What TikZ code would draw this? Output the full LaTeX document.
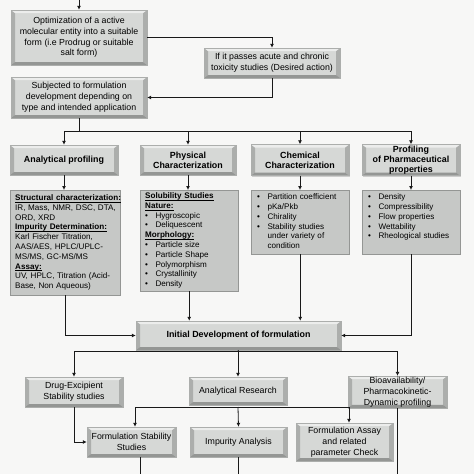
\documentclass[tikz,border=0pt]{standalone}
\usepackage{fontspec}
\setmainfont{Liberation Sans}
\usepackage{tikz}
\usetikzlibrary{arrows.meta,positioning,calc,shadows}
\usepackage{xcolor}
\definecolor{flowbg}   {RGB}{247, 247, 246}
\definecolor{faceA}    {RGB}{214, 216, 214}
\definecolor{faceB}    {RGB}{198, 200, 198}
\definecolor{bevlight} {RGB}{236, 237, 236}
\definecolor{bevside}  {RGB}{172, 174, 172}
\definecolor{bevdark}  {RGB}{148, 150, 148}
\definecolor{lineblk}  {RGB}{ 25,  25,  25}

\begin{document}
\begin{tikzpicture}[
  x=1pt,y=-1pt,
  every node/.style={font=\fontsize{8.8}{10.8}\selectfont,text=black},
  box/.style={fill=faceA,draw=bevside,line width=0.4pt,align=center,inner sep=1pt,
              drop shadow={shadow xshift=1.2pt,shadow yshift=-1.2pt,opacity=0.35}},
  bevel/.style={box,path picture={
      \coordinate (bvNW) at (path picture bounding box.north west);
      \coordinate (bvNE) at (path picture bounding box.north east);
      \coordinate (bvSW) at (path picture bounding box.south west);
      \coordinate (bvSE) at (path picture bounding box.south east);
      \fill[bevside] (bvNW) -- ([shift={(4pt,-3pt)}]bvNW) -- ([shift={(4pt,3pt)}]bvSW) -- (bvSW) -- cycle;
      \fill[bevside] (bvNE) -- ([shift={(-4pt,-3pt)}]bvNE) -- ([shift={(-4pt,3pt)}]bvSE) -- (bvSE) -- cycle;
      \fill[bevlight] (bvNW) -- (bvNE) -- ([shift={(-4pt,-3pt)}]bvNE) -- ([shift={(4pt,-3pt)}]bvNW) -- cycle;
      \fill[bevdark] (bvSW) -- (bvSE) -- ([shift={(-4pt,3pt)}]bvSE) -- ([shift={(4pt,3pt)}]bvSW) -- cycle;
  }},
  head/.style={bevel,font=\fontsize{8.9}{10.3}\selectfont\bfseries},
  list/.style={box,fill=faceB,draw=bevdark,align=left,anchor=north west,
               inner xsep=5pt,inner ysep=1.5pt,font=\fontsize{8.1}{9.8}\selectfont},
  arr/.style={-{Latex[length=4pt,width=4pt]},line width=0.8pt,lineblk},
  ln/.style={line width=0.8pt,lineblk},
]
\newcommand{\hd}[1]{\underline{\smash{\textbf{#1}}}}
\newcommand{\bl}{\textbullet}

\fill[flowbg] (0,0) rectangle (474,474);
\useasboundingbox (0,0) rectangle (474,474);

%% ── Upper chain: optimisation -> toxicity -> formulation ───────────────
\coordinate (top) at (79,0);
\node[bevel,minimum width=136,minimum height=55] (opt) at (79,37.5)
  {Optimization of a active\\molecular entity into a suitable\\form (i.e Prodrug or suitable\\salt form)};
\node[bevel,minimum width=136,minimum height=30] (tox) at (272,63)
  {If it passes acute and chronic\\toxicity studies (Desired action)};
\node[bevel,minimum width=136,minimum height=41] (subj) at (79,97.5)
  {Subjected to formulation\\development depending on\\type and intended application};
\draw[arr] (top) -- (opt.north);
\draw[arr] (opt.east) -| (tox.north);
\draw[arr] (tox.south) |- (subj.east);

%% ── Four profiling branches ───────────────────────────────────────────
\node[head,minimum width=108,minimum height=30] (anal) at (64,160) {Analytical profiling};
\node[head,minimum width=96,minimum height=30]  (phys) at (188,160) {Physical\\Characterization};
\node[head,minimum width=98,minimum height=31]  (chem) at (300,160) {Chemical\\Characterization};
\node[head,minimum width=98,minimum height=31]  (prof) at (411,160) {Profiling\\of Pharmaceutical\\properties};
\coordinate (split) at (79,131);
\draw[ln] (subj.south) -- (split);
\draw[ln] (anal.north |- split) -- (prof.north |- split);
\foreach \b in {anal,phys,chem,prof}
  \draw[arr] (\b.north |- split) -- (\b.north);

\node[list,text width=100,minimum height=105] (anald) at (10,190)
  {\begin{tabular}{@{}l@{}}
   \hd{Structural characterization:}\\
   IR, Mass, NMR, DSC, DTA,\\
   ORD, XRD\\
   \hd{Impurity Determination:}\\
   Karl Fischer Titration,\\
   AAS/AES, HPLC/UPLC-\\
   MS/MS, GC-MS/MS\\
   \hd{Assay:}\\
   UV, HPLC, Titration (Acid-\\
   Base, Non Aqueous)
  \end{tabular}};
\node[list,text width=88,minimum height=100] (physd) at (140,190)
  {\begin{tabular}{@{}l@{\hspace{7.5pt}}l@{}}
   \multicolumn{2}{@{}l@{}}{\hd{Solubility Studies}}\\
   \multicolumn{2}{@{}l@{}}{\hd{Nature:}}\\
   \bl & Hygroscopic\\
   \bl & Deliquescent\\
   \multicolumn{2}{@{}l@{}}{\hd{Morphology:}}\\
   \bl & Particle size\\
   \bl & Particle Shape\\
   \bl & Polymorphism\\
   \bl & Crystallinity\\
   \bl & Density
  \end{tabular}};
\node[list,text width=86,inner xsep=6pt,minimum height=64] (chemd) at (251,190)
  {\begin{tabular}{@{}l@{\hspace{7.5pt}}l@{}}
   \bl & Partition coefficient\\
   \bl & pKa/Pkb\\
   \bl & Chirality\\
   \bl & Stability studies\\
       & under variety of\\
       & condition
  \end{tabular}};
\node[list,text width=86,inner xsep=6pt,minimum height=64] (profd) at (362,190)
  {\begin{tabular}{@{}l@{\hspace{7.5pt}}l@{}}
   \bl & Density\\
   \bl & Compressibility\\
   \bl & Flow properties\\
   \bl & Wettability\\
   \bl & Rheological studies\\
       & \mbox{}
  \end{tabular}};
\draw[arr] (anal.south) -- (anal.south |- anald.north);
\draw[arr] (phys.south) -- (phys.south |- physd.north);
\draw[arr] (chem.south) -- (chem.south |- chemd.north);
\draw[arr] (prof.south) -- (prof.south |- profd.north);

%% ── Merge into initial development ────────────────────────────────────
\node[head,minimum width=205,minimum height=29] (init) at (238.5,335.5) {Initial Development of formulation};
\draw[arr] (anald.south) |- (init.west);
\draw[arr] (physd.south) -- (physd.south |- init.north);
\draw[arr] (chemd.south) -- (chemd.south |- init.north);
\draw[arr] (profd.south) |- (init.east);

%% ── Second level studies ──────────────────────────────────────────────
\node[bevel,minimum width=98,minimum height=30] (drug) at (74,392) {Drug-Excipient\\Stability studies};
\node[bevel,minimum width=98,minimum height=28] (ares) at (238,391) {Analytical Research};
\node[bevel,minimum width=99,minimum height=30] (bio)  at (397.5,392) {Bioavailability/\\Pharmacokinetic-\\Dynamic profiling};
\coordinate (split2) at (238,351);
\draw[ln] (init.south) -- (split2);
\draw[ln] (drug.north |- split2) -- (bio.north |- split2);
\foreach \b in {drug,ares,bio}
  \draw[arr] (\b.north |- split2) -- (\b.north);

%% ── Third level ───────────────────────────────────────────────────────
\node[bevel,minimum width=89,minimum height=30] (fstab) at (131.5,442) {Formulation Stability\\Studies};
\node[bevel,minimum width=97,minimum height=30] (imp)   at (238.5,442) {Impurity Analysis};
\node[bevel,minimum width=97,minimum height=38] (fass)  at (344.5,442) {Formulation Assay\\and related\\parameter Check};
\coordinate (split3) at (238,407);
\draw[ln] ([xshift=3.5pt]fstab.north |- split3) -- ([xshift=4.5pt]fass.north |- split3);
\draw[arr] ([xshift=3.5pt]fstab.north |- split3) -- ([xshift=3.5pt]fstab.north);
\draw[arr] (split3) -- (imp.north);
\draw[arr] ([xshift=4.5pt]fass.north |- split3) -- ([xshift=4.5pt]fass.north);
\draw[arr] (drug.south) |- (fstab.west);

%% open ends running off the bottom
\coordinate (endA) at ([xshift=8.5pt]fstab.south |- 0,474);
\draw[ln] ([xshift=8.5pt]fstab.south) -- (endA);
\draw[ln] (imp.south) -- (imp.south |- endA);
\draw[ln] (bio.south) -- (bio.south |- endA);

\end{tikzpicture}
\end{document}
